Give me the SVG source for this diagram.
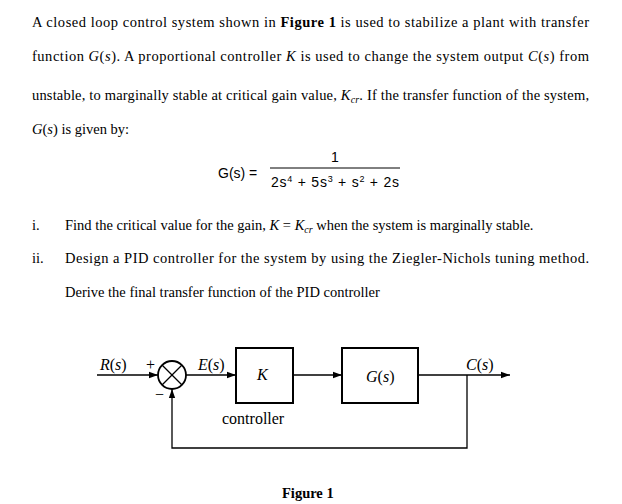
<svg xmlns="http://www.w3.org/2000/svg" width="622" height="504" viewBox="0 0 622 504">
<style>
.t{font-family:"Liberation Serif",serif;font-size:14.5px;fill:#000}
.m{font-family:"Liberation Sans",sans-serif;font-size:14px;fill:#000}
.d{font-family:"Liberation Serif",serif;font-size:16px;fill:#000}
.ln{stroke:#000;stroke-width:1.3;fill:none}
.bx{stroke:#000;stroke-width:2;fill:#fff}
</style>
<defs><marker id="a" viewBox="0 0 10 10" refX="10" refY="5" markerWidth="9" markerHeight="9" markerUnits="userSpaceOnUse" orient="auto"><path d="M0,1.5 L10,5 L0,8.5z" fill="#000"/></marker></defs>
<rect width="622" height="504" fill="#fff"/>
<text class="t" x="32" y="27" textLength="557" lengthAdjust="spacing">A closed loop control system shown in <tspan font-weight="bold">Figure 1</tspan> is used to stabilize a plant with transfer</text>
<text class="t" x="32" y="61" textLength="557" lengthAdjust="spacing">function <tspan font-style="italic">G</tspan>(<tspan font-style="italic">s</tspan>). A proportional controller <tspan font-style="italic">K</tspan> is used to change the system output <tspan font-style="italic">C</tspan>(<tspan font-style="italic">s</tspan>) from</text>
<text class="t" x="32" y="100" textLength="557" lengthAdjust="spacing">unstable, to marginally stable at critical gain value, <tspan font-style="italic">K<tspan font-size="10" dy="3">cr</tspan></tspan><tspan dy="-3">. If the transfer function of the system,</tspan></text>
<text class="t" x="32" y="134"><tspan font-style="italic">G</tspan>(<tspan font-style="italic">s</tspan>) is given by:</text>
<g id="formula" class="m">
<text x="218" y="178">G(s) =</text>
<text x="331" y="162">1</text>
<line x1="270" y1="168" x2="400" y2="168" stroke="#000" stroke-width="1"/>
<text x="271" y="187" textLength="128" lengthAdjust="spacing">2s<tspan font-size="9" dy="-5">4</tspan><tspan dy="5"> + 5s</tspan><tspan font-size="9" dy="-5">3</tspan><tspan dy="5"> + s</tspan><tspan font-size="9" dy="-5">2</tspan><tspan dy="5"> + 2s</tspan></text>
</g>
<text class="t" x="32" y="230">i.</text>
<text class="t" x="65" y="230">Find the critical value for the gain, <tspan font-style="italic">K</tspan> = <tspan font-style="italic">K<tspan font-size="10" dy="3">cr</tspan></tspan><tspan dy="-3"> when the system is marginally stable.</tspan></text>
<text class="t" x="32" y="263">ii.</text>
<text class="t" x="65" y="263" textLength="524" lengthAdjust="spacing">Design a PID controller for the system by using the Ziegler-Nichols tuning method.</text>
<text class="t" x="65" y="297">Derive the final transfer function of the PID controller</text>
<g id="connectors">
<line class="ln" x1="97" y1="375" x2="158" y2="375" marker-end="url(#a)"/>
<line class="ln" x1="186" y1="375" x2="236" y2="375" marker-end="url(#a)"/>
<line class="ln" x1="293" y1="375" x2="342" y2="375" marker-end="url(#a)"/>
<line class="ln" x1="418" y1="375" x2="510" y2="375" marker-end="url(#a)"/>
<polyline class="ln" points="467,375 467,448 172,448 172,389" marker-end="url(#a)"/>
</g>
<g id="sum">
<circle cx="172" cy="375" r="14" fill="#fff" stroke="#000" stroke-width="1.8"/>
<line class="ln" x1="162" y1="365" x2="182" y2="385"/><line class="ln" x1="182" y1="365" x2="162" y2="385"/>
<text class="d" x="146" y="370" font-size="13">+</text>
<text class="d" x="155" y="400" font-size="14">−</text>
</g>
<g id="K"><rect class="bx" x="236" y="348" width="57" height="55"/><text class="d" x="257" y="380" font-size="11" font-style="italic">K</text></g>
<g id="G"><rect class="bx" x="342" y="348" width="76" height="55"/><text class="d" x="366" y="382"><tspan font-style="italic">G</tspan>(<tspan font-style="italic">s</tspan>)</text></g>
<text class="d" x="100" y="370"><tspan font-style="italic">R</tspan>(<tspan font-style="italic">s</tspan>)</text>
<text class="d" x="198" y="370"><tspan font-style="italic">E</tspan>(<tspan font-style="italic">s</tspan>)</text>
<text class="d" x="466" y="370"><tspan font-style="italic">C</tspan>(<tspan font-style="italic">s</tspan>)</text>
<text class="d" x="222" y="424" font-size="18">controller</text>
<text class="t" x="282" y="498" font-weight="bold">Figure 1</text>
</svg>
